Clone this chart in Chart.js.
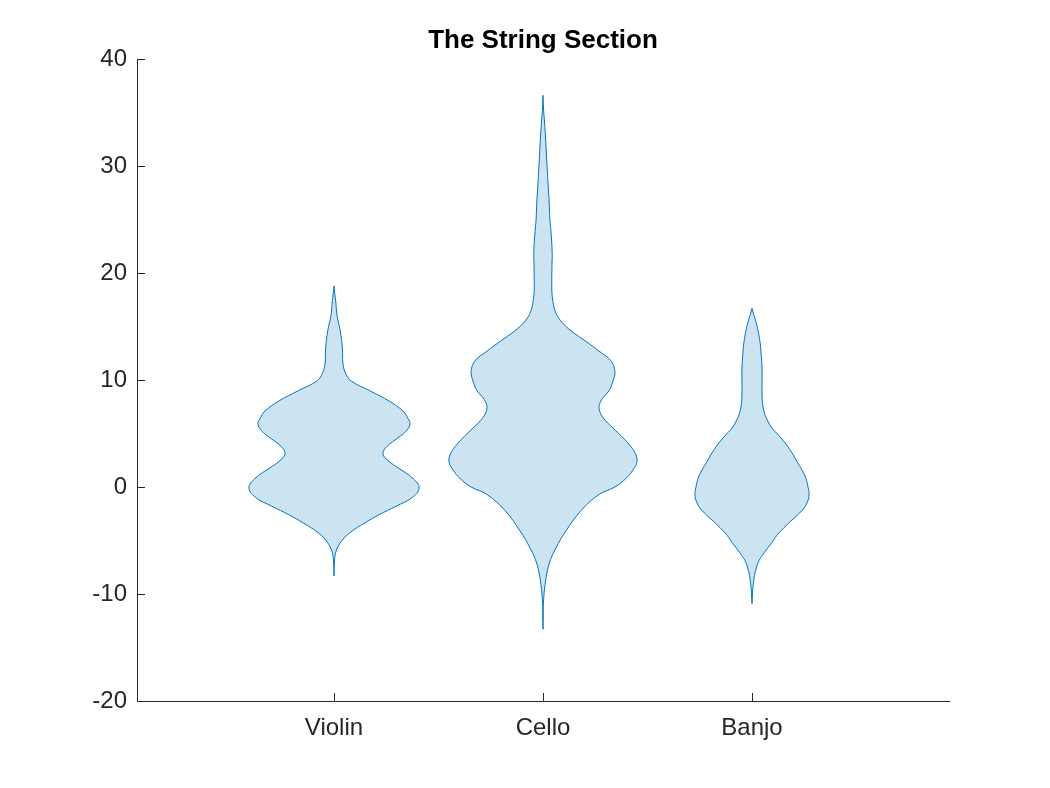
<!DOCTYPE html>
<html>
<head>
<meta charset="utf-8">
<script src="https://cdn.jsdelivr.net/npm/chart.js@4/dist/chart.umd.min.js"></script>
<style>
  html, body { margin: 0; padding: 0; background: #ffffff; }
  #c { display: block; }
</style>
</head>
<body>
<canvas id="c" width="1050" height="788"></canvas>
<script>
// ---- data ----
const categories = ['Violin', 'Cello', 'Banjo'];
const yTicks = [-20, -10, 0, 10, 20, 30, 40];
const chartTitle = 'The String Section';

// density outlines: y value and half-width (in category units)
const violinY  = [-8.3, -7.0, -6.0, -5.0, -4.2, -3.4, -2.6, -1.8, -1.0, -0.1, 0.8, 1.8, 2.4, 3.1, 3.8, 4.6, 5.2, 5.9, 6.4, 7.1, 8.0, 9.0, 9.9, 10.6, 11.5, 13.0, 14.6, 16.1, 17.4, 18.0, 18.8];
const violinHW = [0, .002, .010, .038, .081, .144, .215, .297, .373, .407, .378, .306, .263, .234, .254, .306, .344, .364, .354, .330, .267, .171, .083, .056, .043, .040, .030, .014, .008, .004, 0];

const celloY  = [-13.3, -12.0, -10.9, -9.1, -7.2, -5.7, -4.1, -2.2, -0.7, 0.0, 0.8, 1.6, 2.4, 3.2, 4.0, 4.8, 5.5, 6.5, 7.4, 8.2, 9.0, 9.9, 10.8, 11.8, 12.7, 13.6, 14.6, 15.5, 16.4, 17.7, 18.8, 20.8, 21.9, 23.9, 25.0, 26.5, 28.1, 31.2, 33.0, 34.4, 35.5, 36.6];
const celloHW = [0, .001, .002, .010, .029, .062, .110, .182, .268, .344, .397, .431, .450, .440, .411, .373, .335, .287, .268, .282, .316, .335, .344, .325, .268, .206, .134, .086, .059, .045, .042, .043, .044, .038, .033, .030, .025, .016, .011, .006, .002, 0];

const banjoY  = [-10.9, -9.5, -8.5, -7.7, -6.9, -6.1, -5.3, -4.5, -3.8, -3.0, -2.2, -1.5, -0.7, 0.0, 0.8, 1.6, 2.4, 3.2, 4.0, 4.8, 5.5, 6.3, 7.1, 7.9, 8.7, 10.0, 11.1, 12.4, 13.6, 14.6, 15.5, 16.2, 16.7];
const banjoHW = [0, .004, .010, .019, .033, .060, .091, .120, .153, .196, .239, .263, .273, .268, .258, .239, .215, .191, .163, .129, .096, .072, .057, .050, .048, .048, .048, .044, .038, .029, .018, .007, 0];

const violins = [
  { center: 1, y: violinY, hw: violinHW },
  { center: 2, y: celloY,  hw: celloHW },
  { center: 3, y: banjoY,  hw: banjoHW }
];

// ---- build closed outlines ----
function outline(v) {
  const pts = [];
  for (let i = 0; i < v.y.length; i++) pts.push({ x: v.center - v.hw[i], y: v.y[i] });
  for (let i = v.y.length - 1; i >= 0; i--) pts.push({ x: v.center + v.hw[i], y: v.y[i] });
  return pts;
}

const lineColor = 'rgb(0,114,189)';
const fillColor = 'rgba(0,114,189,0.2)';
const axisColor = '#262626';
const fontFamily = '"Liberation Sans", Arial, Helvetica, sans-serif';

const datasets = violins.map((v, i) => ({
  label: categories[i],
  data: outline(v),
  showLine: true,
  borderColor: lineColor,
  backgroundColor: fillColor,
  borderWidth: 1,
  pointRadius: 0,
  tension: 0.4,
  fill: 'shape'
}));

const inwardTicks = {
  id: 'inwardTicks',
  afterDraw(chart) {
    const ctx = chart.ctx;
    const xs = chart.scales.x, ys = chart.scales.y;
    const len = 8;
    ctx.save();
    ctx.strokeStyle = axisColor;
    ctx.lineWidth = 1;
    ctx.beginPath();
    yTicks.forEach(t => {
      const py = Math.round(ys.getPixelForValue(t)) + 0.5;
      ctx.moveTo(xs.left, py);
      ctx.lineTo(xs.left + len, py);
    });
    categories.forEach((c, i) => {
      const px = Math.round(xs.getPixelForValue(i + 1)) + 0.5;
      ctx.moveTo(px, ys.bottom);
      ctx.lineTo(px, ys.bottom - len);
    });
    ctx.stroke();
    // title centred over the axes
    const ca = chart.chartArea;
    ctx.fillStyle = '#000000';
    ctx.font = 'bold 26px ' + fontFamily;
    ctx.textAlign = 'center';
    ctx.textBaseline = 'middle';
    ctx.fillText(chartTitle, (ca.left + ca.right) / 2, 41);
    ctx.restore();
  }
};

new Chart(document.getElementById('c'), {
  type: 'scatter',
  data: { datasets },
  plugins: [inwardTicks],
  options: {
    responsive: false,
    animation: false,
    events: [],
    layout: { padding: { left: 0, right: 101, top: 59, bottom: 0 } },
    plugins: {
      legend: { display: false },
      tooltip: { enabled: false },
      title: { display: false }
    },
    scales: {
      x: {
        type: 'linear',
        min: 0.0574,
        max: 3.9426,
        afterBuildTicks: s => { s.ticks = categories.map((c, i) => ({ value: i + 1 })); },
        afterFit: s => { s.height = 87; },
        ticks: {
          callback: v => categories[v - 1],
          autoSkip: false,
          maxRotation: 0,
          color: axisColor,
          padding: 13,
          font: { family: fontFamily, size: 24 }
        },
        grid: { display: false, drawTicks: false },
        border: { display: true, color: axisColor, width: 1 }
      },
      y: {
        type: 'linear',
        min: -20,
        max: 40,
        afterBuildTicks: s => { s.ticks = yTicks.map(v => ({ value: v })); },
        afterFit: s => { s.width = 137; },
        ticks: {
          color: axisColor,
          padding: 10,
          font: { family: fontFamily, size: 24 }
        },
        grid: { display: false, drawTicks: false },
        border: { display: true, color: axisColor, width: 1 }
      }
    }
  }
});
</script>
</body>
</html>
